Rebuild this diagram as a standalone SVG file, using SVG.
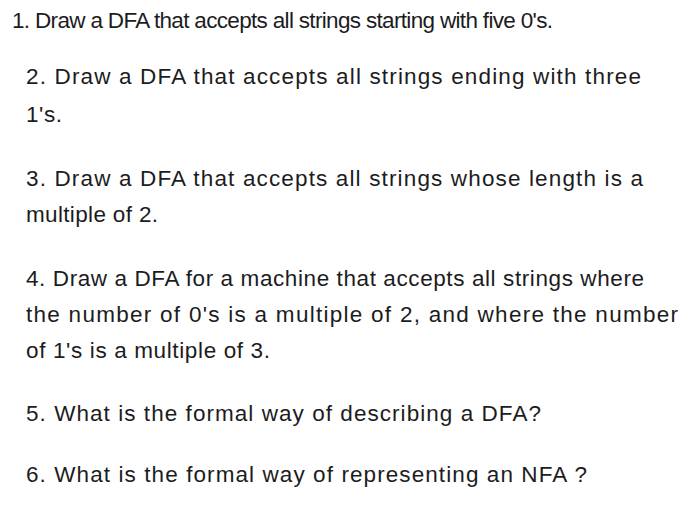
<svg xmlns="http://www.w3.org/2000/svg" width="700" height="508" viewBox="0 0 700 508">
<style>text{font-family:"Liberation Sans",Arial,sans-serif;font-size:22.5px;fill:#1c1c1e}</style>
<rect width="700" height="508" fill="#fff"/>
<text x="12" y="28" font-size="20.5" textLength="541" lengthAdjust="spacing">1. Draw a DFA that accepts all strings starting with five 0's.</text>
<text x="26" y="84" textLength="615" lengthAdjust="spacing">2. Draw a DFA that accepts all strings ending with three</text>
<text x="26" y="122" textLength="36" lengthAdjust="spacing">1's.</text>
<text x="26" y="186" textLength="617" lengthAdjust="spacing">3. Draw a DFA that accepts all strings whose length is a</text>
<text x="26" y="222" textLength="132" lengthAdjust="spacing">multiple of 2.</text>
<text x="26" y="286" textLength="618" lengthAdjust="spacing">4. Draw a DFA for a machine that accepts all strings where</text>
<text x="26" y="322" textLength="652" lengthAdjust="spacing">the number of 0's is a multiple of 2, and where the number</text>
<text x="26" y="358" textLength="244" lengthAdjust="spacing">of 1's is a multiple of 3.</text>
<text x="26" y="421" textLength="515" lengthAdjust="spacing">5. What is the formal way of describing a DFA?</text>
<text x="26" y="482" textLength="561" lengthAdjust="spacing">6. What is the formal way of representing an NFA ?</text>
</svg>
